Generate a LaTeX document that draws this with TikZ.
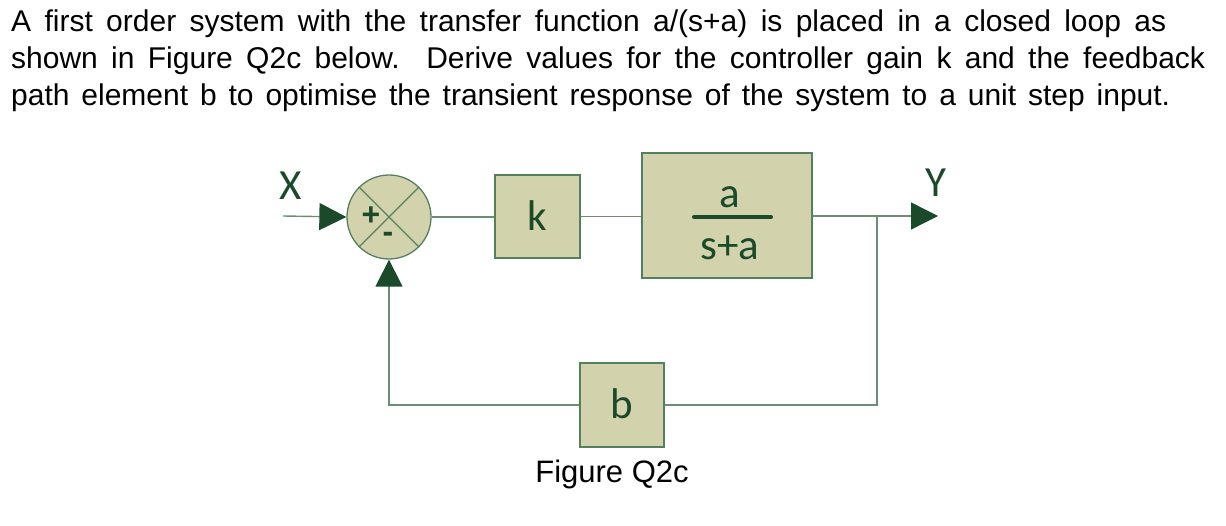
\documentclass[tikz,border=0pt]{standalone}
\usepackage{fontspec}
\setmainfont{Liberation Sans}
\newfontfamily\boxfont{Carlito}
\usetikzlibrary{arrows.meta}
\definecolor{blkfill}{HTML}{D2D3AD}
\definecolor{blkdraw}{HTML}{55805E}
\definecolor{wire}{HTML}{6A8F74}
\definecolor{dkgreen}{HTML}{1A4A2A}
\tikzset{
  blk/.style={draw=blkdraw, fill=blkfill, line width=1.3pt, inner sep=0pt},
  wirestyle/.style={draw=wire, line width=1.4pt},
  tipstyle/.style={-{Triangle[length=27pt,width=27pt,color=dkgreen]}},
  lbl/.style={text=dkgreen, font=\boxfont\fontsize{43}{43}\selectfont, inner sep=0pt},
  para/.style={anchor=base west, inner sep=0pt, font=\fontsize{30}{36}\selectfont}
}
\begin{document}
\begin{tikzpicture}[x=1pt,y=-1pt]
\useasboundingbox (0,0) rectangle (1226,526);
% paragraph
\node[para] (l1) at (11,32) {\makebox[1155pt][s]{A first order system with the transfer function a/(s+a) is placed in a closed loop as}};
\node[para] (l2) at (11,69) {\makebox[1194pt][s]{shown in Figure Q2c below.\ \ Derive values for the controller gain k and the feedback}};
\node[para] (l3) at (11,106) {\makebox[1159pt][s]{path element b to optimise the transient response of the system to a unit step input.}};
% blocks
\node[blk, circle, minimum size=84pt] (sum) at (389,217) {};
\draw[blkdraw, line width=1.2pt] (sum.north west) -- (sum.south east);
\draw[blkdraw, line width=1.2pt] (sum.north east) -- (sum.south west);
\node[text=dkgreen, font=\bfseries\fontsize{32}{32}\selectfont, inner sep=0pt] (plus) at (371,216) {+};
\node[text=dkgreen, font=\bfseries\fontsize{32}{32}\selectfont, inner sep=0pt] (minus) at (388,237) {-};
\node[blk, minimum width=85pt, minimum height=83pt] (kb) at (537.5,216.5) {};
\node[lbl] (kt) at (537.5,216) {k};
\node[blk, minimum width=170pt, minimum height=125pt] (gb) at (727,215.5) {};
\node[lbl, anchor=base] (ga) at (730,208) {a};
\node[lbl, anchor=base] (gs) at (730,260) {s+a};
\draw[dkgreen, line width=4pt, line cap=round] (694,217) -- (771,217);
\node[blk, minimum width=84pt, minimum height=84pt] (bb) at (622,405) {};
\node[lbl] (bt) at (622,404) {b};
% labels
\node[lbl] (X) at (291,186) {X};
\node[lbl] (Y) at (936,183) {Y};
\node[inner sep=0pt, anchor=base, font=\fontsize{31}{36}\selectfont] (cap) at (612,482) {Figure Q2c};
% wires
\coordinate (xin) at (283,216);
\coordinate (yout) at (938,216);
\coordinate (br) at (877,216);
\draw[wirestyle, tipstyle] (xin) -- (sum.west);
\draw[wirestyle] (sum.east) -- (kb.west |- sum.east);
\draw[wirestyle] (kb.east) -- (gb.west |- kb.east);
\draw[wirestyle, tipstyle] (gb.east |- yout) -- (yout);
\draw[wirestyle] (br) |- (bb.east);
\draw[wirestyle, tipstyle] (bb.west) -| (sum.south);
\end{tikzpicture}
\end{document}
